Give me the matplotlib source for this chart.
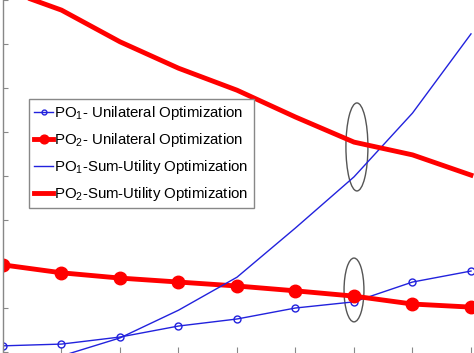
import numpy as np
import matplotlib
matplotlib.use('Agg')
import matplotlib.pyplot as plt
from matplotlib.patches import Ellipse

plt.rcParams['font.family'] = ['Liberation Sans', 'DejaVu Sans']
plt.rcParams['mathtext.default'] = 'regular'

# data
x = [0, 1, 2, 3, 4, 5, 6, 7, 8]
po1_unilateral = [0.14, 0.18, 0.34, 0.59, 0.75, 1.0, 1.14, 1.59, 1.84]
po2_unilateral = [1.98, 1.80, 1.68, 1.59, 1.50, 1.39, 1.27, 1.09, 1.02]
po1_sum = [-0.45, -0.09, 0.32, 0.95, 1.70, 2.82, 3.98, 5.43, 7.23]
po2_sum = [8.25, 7.77, 7.05, 6.45, 5.95, 5.34, 4.77, 4.48, 4.02]
labels = ['PO$_1$- Unilateral Optimization',
          'PO$_2$- Unilateral Optimization',
          'PO$_1$-Sum-Utility Optimization',
          'PO$_2$-Sum-Utility Optimization']

W, H = 474, 353
fig = plt.figure(figsize=(W / 100, H / 100), dpi=100)

# axes cropped: only left spine and bottom ticks remain in view
px_per_x = 58.5
px_per_y = 44.0
left_px, right_px = 3, 490
top_px, bottom_px = -6, 357
ax = fig.add_axes([left_px / W, (H - bottom_px) / H,
                   (right_px - left_px) / W, (bottom_px - top_px) / H])
ax.set_xlim(0, (right_px - left_px) / px_per_x)
ax.set_ylim((352 - bottom_px) / px_per_y, (352 - top_px) / px_per_y)

blue = '#2222dd'
red = '#ff0000'
ax.plot(x, po1_unilateral, '-o', color=blue, lw=1.0, ms=5, mfc='none', mew=1.0,
        label=labels[0])
ax.plot(x, po2_unilateral, '-o', color=red, lw=3.5, ms=9, label=labels[1])
ax.plot(x, po1_sum, '-', color=blue, lw=1.0, label=labels[2])
ax.plot(x, po2_sum, '-', color=red, lw=3.5, label=labels[3])

ax.add_patch(Ellipse((6.05, 4.66), 0.376, 2.0, fill=False, ec='#555555', lw=1.0))
ax.add_patch(Ellipse((6.0, 1.41), 0.34, 1.45, fill=False, ec='#555555', lw=1.0))

ax.set_xticks(x)
ax.set_yticks(range(0, 9))
ax.tick_params(direction='in', colors='#888888', labelleft=False, labelbottom=False)
ax.tick_params(axis='x', length=7)
ax.tick_params(axis='y', length=3.5)
for s in ax.spines.values():
    s.set_color('#888888')
    s.set_linewidth(1.0)

leg = ax.legend(loc='upper left', bbox_to_anchor=(29 / W, 1 - 99 / H),
                bbox_transform=fig.transFigure, borderaxespad=0,
                fontsize=10.8, handlelength=1.25, handletextpad=0.1,
                labelspacing=0.6, fancybox=False, framealpha=1,
                edgecolor='#888888', borderpad=0.35, markerscale=0.7)
leg.get_frame().set_linewidth(1.0)

fig.savefig('out.png', dpi=100)
